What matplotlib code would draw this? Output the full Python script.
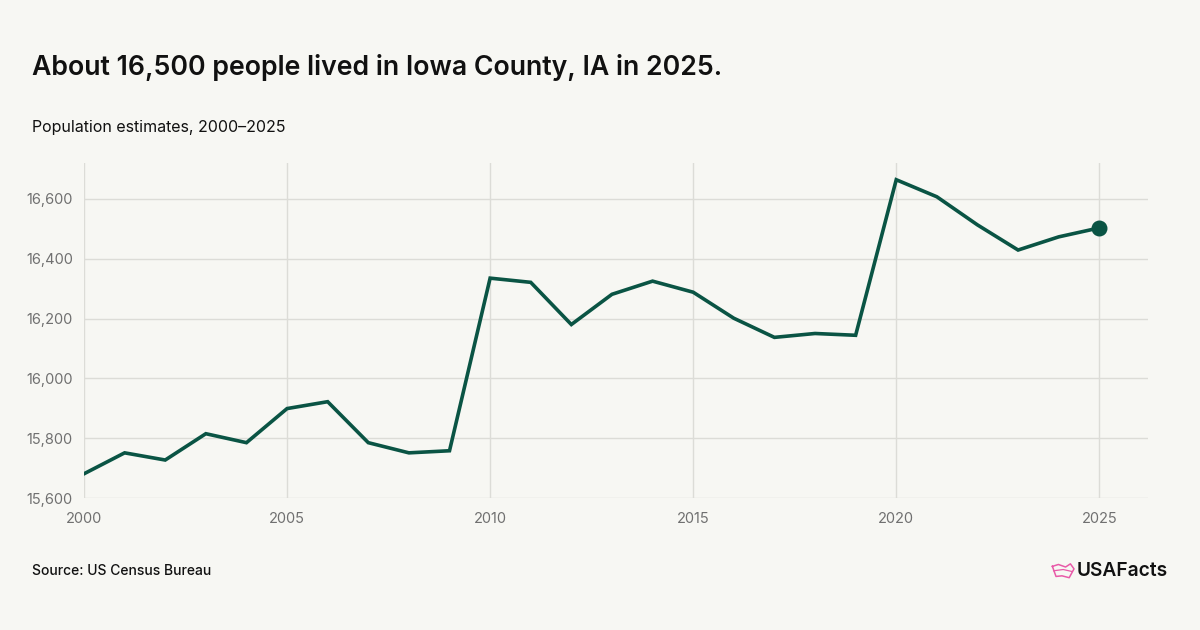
import matplotlib.pyplot as plt
from matplotlib.ticker import FuncFormatter

years = list(range(2000, 2026))
population = [15681, 15751, 15727, 15815, 15785, 15899, 15922, 15785, 15751, 15758,
              16335, 16321, 16180, 16281, 16325, 16288, 16201, 16137, 16150, 16144,
              16664, 16607, 16513, 16429, 16473, 16503]
x_ticks = [2000, 2005, 2010, 2015, 2020, 2025]
y_ticks = [15600, 15800, 16000, 16200, 16400, 16600]

bg = '#f7f7f3'
green = '#0a5444'
plt.rcParams['font.family'] = ['Inter', 'DejaVu Sans']

fig = plt.figure(figsize=(12, 6.3), dpi=100, facecolor=bg)
ax = fig.add_axes([0.07, 0.2095, 0.8867, 0.5318])
ax.set_facecolor(bg)

ax.plot(years, population, color=green, linewidth=2.6, solid_joinstyle='miter', zorder=3)
ax.scatter([years[-1]], [population[-1]], s=110, color=green, zorder=4)

ax.set_xlim(2000, 2026.2)
ax.set_ylim(15600, 16720)
ax.set_xticks(x_ticks)
ax.set_yticks(y_ticks)
ax.yaxis.set_major_formatter(FuncFormatter(lambda v, p: f'{int(v):,}'))
ax.grid(True, color='#dcdcd7', linewidth=1)
ax.set_axisbelow(True)
for s in ax.spines.values():
    s.set_visible(False)
ax.tick_params(length=0, labelsize=10.5, labelcolor='#707070', pad=8)
ax.tick_params(axis='x', pad=10)

fig.text(0.027, 0.893, 'About 16,500 people lived in Iowa County, IA in 2025.',
         fontsize=19.2, fontweight='semibold', color='#111111', va='center')
fig.text(0.027, 0.797, 'Population estimates, 2000\u20132025',
         fontsize=11.5, color='#111111', va='center')
fig.text(0.027, 0.093, 'Source: US Census Bureau',
         fontsize=10, fontweight='medium', color='#111111', va='center')
fig.text(0.973, 0.093, 'USAFacts', fontsize=13.8, fontweight='semibold',
         color='#111111', va='center', ha='right')
# small pink map-ish mark for the logo
pink = '#e85aa8'
fig.lines.append(plt.Line2D([0.877, 0.882, 0.888, 0.892, 0.895, 0.891, 0.885, 0.880, 0.877],
                            [0.101, 0.104, 0.100, 0.105, 0.097, 0.083, 0.086, 0.085, 0.101],
                            transform=fig.transFigure, color=pink, linewidth=1.1))
fig.lines.append(plt.Line2D([0.878, 0.886, 0.893],
                            [0.094, 0.096, 0.093],
                            transform=fig.transFigure, color=pink, linewidth=0.9))

fig.savefig('out.png', dpi=100, facecolor=bg)
